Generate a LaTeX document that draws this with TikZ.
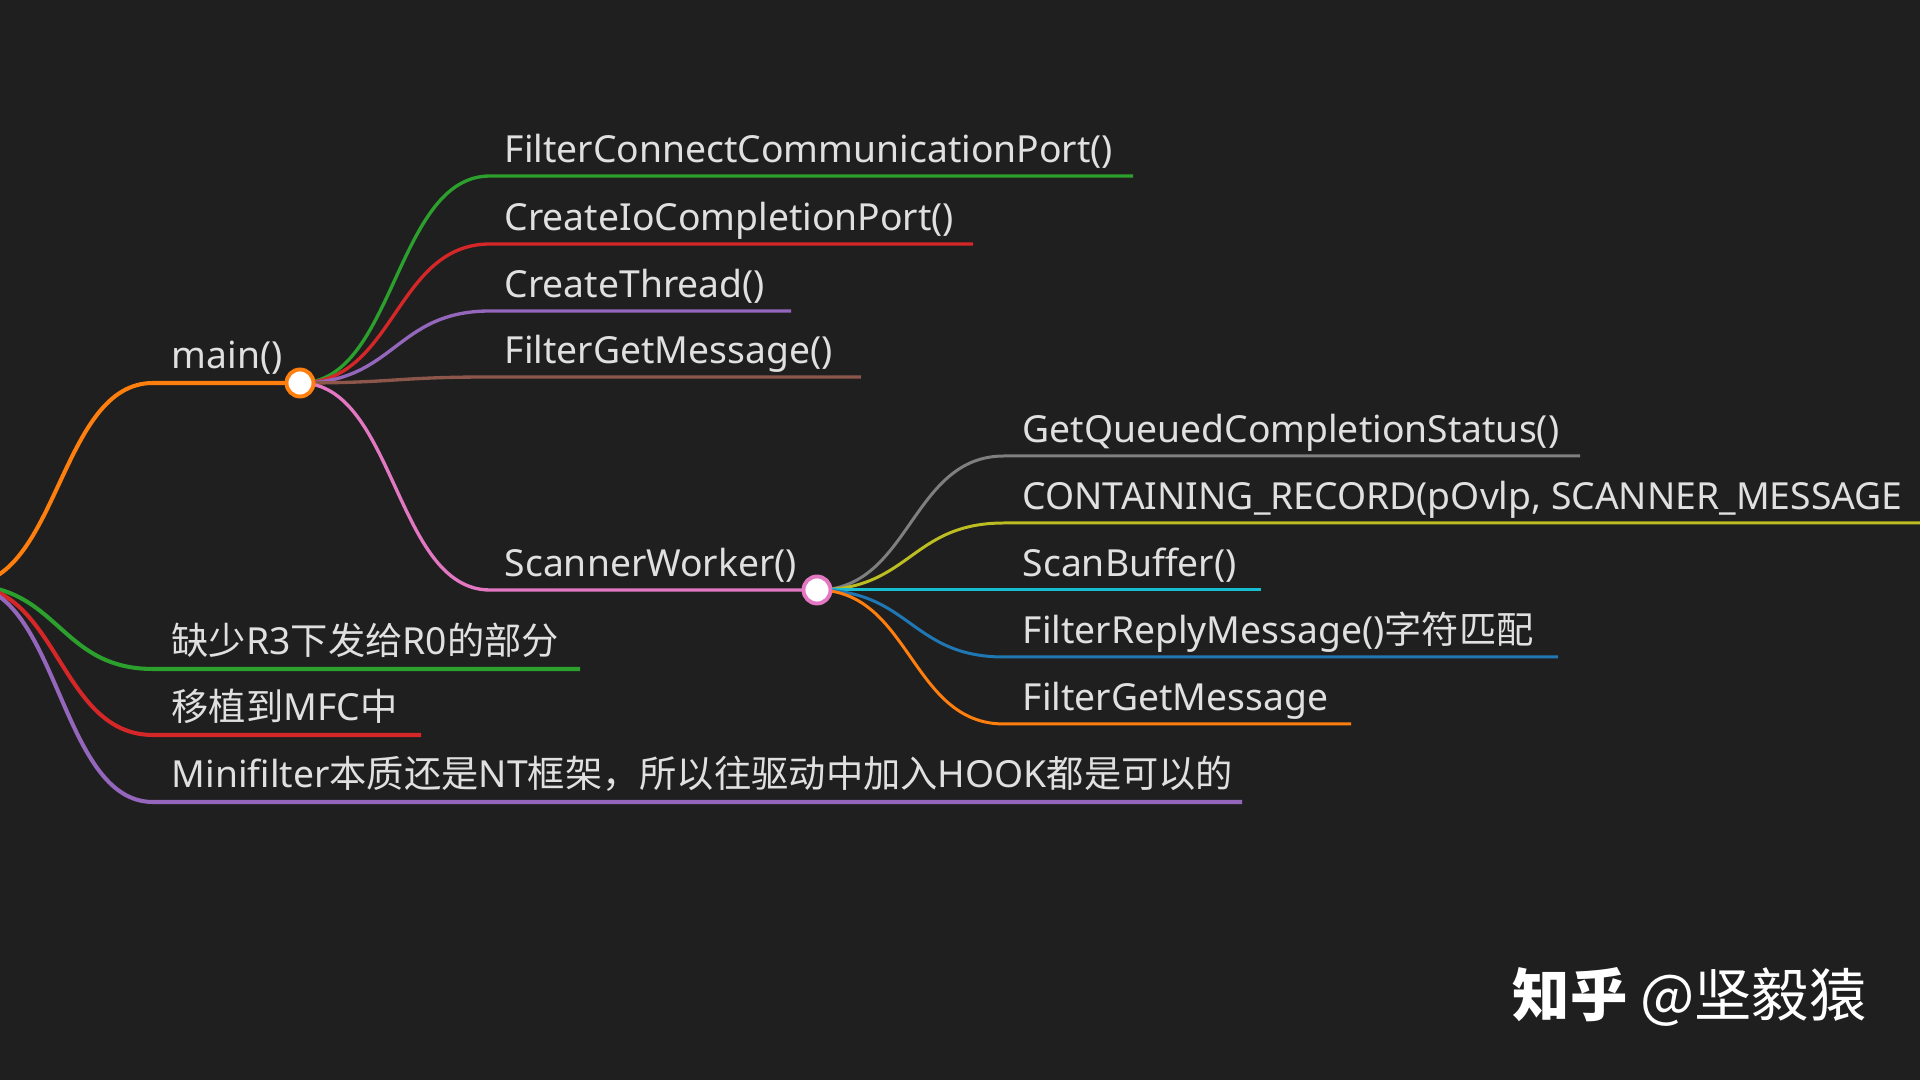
\documentclass[tikz,border=0pt]{standalone}
\usepackage{fontspec}
\setmainfont{Noto Sans}
\newfontfamily\cjk{Noto Sans CJK SC}
\usetikzlibrary{calc}
\definecolor{bg}{RGB}{31,31,31}
\definecolor{txt}{RGB}{224,224,224}
\definecolor{mmblue}{HTML}{1F77B4}
\definecolor{mmorange}{HTML}{FF7F0E}
\definecolor{mmgreen}{HTML}{2CA02C}
\definecolor{mmred}{HTML}{D62728}
\definecolor{mmpurple}{HTML}{9467BD}
\definecolor{mmbrown}{HTML}{8C564B}
\definecolor{mmpink}{HTML}{E377C2}
\definecolor{mmgray}{HTML}{7F7F7F}
\definecolor{mmolive}{HTML}{BCBD22}
\definecolor{mmcyan}{HTML}{17BECF}

\begin{document}
\begin{tikzpicture}[
  x=0.01cm, y=-0.01cm,
  every node/.style={font=\fontsize{10.6}{13}\selectfont, text=txt},
  lbl/.style={anchor=base west, inner sep=0pt},
  link/.style={to path={let \p1=(\tikztostart), \p2=(\tikztotarget),
      \p3=($(\p1)!.5!(\p2)$) in .. controls (\x3,\y1) and (\x3,\y2) .. (\tikztotarget)}},
  lv1/.style={draw=#1, line width=1.15pt},
  lv2/.style={draw=#1, line width=0.95pt},
  lv3/.style={draw=#1, line width=0.85pt},
  dot/.style={circle, draw=#1, fill=white, line width=1.1pt,
              minimum size=0.27cm, inner sep=0pt},
]
\fill[bg] (0,0) rectangle (1920,1080);
\useasboundingbox (0,0) rectangle (1920,1080);
\clip (0,0) rectangle (1920,1080);

% first level
\coordinate (root) at (-35,585);
\coordinate (mainS) at (153,383);  \coordinate (mainC) at (300,383);
\coordinate (lackS) at (153,669);  \coordinate (lackE) at (580,669);
\coordinate (portS) at (153,735);  \coordinate (portE) at (421,735);
\coordinate (miniS) at (153,802);  \coordinate (miniE) at (1242,802);

\draw[lv1=mmorange] (root) to[link] (mainS) -- (mainC);
\draw[lv1=mmgreen]  (root) to[link] (lackS) -- (lackE);
\draw[lv1=mmred]    (root) to[link] (portS) -- (portE);
\draw[lv1=mmpurple] (root) to[link] (miniS) -- (miniE);

% main()
\coordinate (fccS) at (490,176);   \coordinate (fccE) at (1133,176);
\coordinate (cicpS) at (490,244);  \coordinate (cicpE) at (973,244);
\coordinate (cthS) at (490,311);   \coordinate (cthE) at (791,311);
\coordinate (fgmS) at (490,377);   \coordinate (fgmE) at (861,377);
\coordinate (swS) at (490,590);    \coordinate (swC) at (817,590);

\draw[lv2=mmgreen]  (mainC) to[link] (fccS) -- (fccE);
\draw[lv2=mmred]    (mainC) to[link] (cicpS) -- (cicpE);
\draw[lv2=mmpurple] (mainC) to[link] (cthS) -- (cthE);
\draw[lv2=mmbrown]  (mainC) to[link] (fgmS) -- (fgmE);
\draw[lv2=mmpink]   (mainC) to[link] (swS) -- (swC);

% ScannerWorker()
\coordinate (gqcsS) at (1004,456); \coordinate (gqcsE) at (1580,456);
\coordinate (crecS) at (1004,523); \coordinate (crecE) at (1930,523);
\coordinate (sbS) at (1004,590);   \coordinate (sbE) at (1261,590);
\coordinate (frmS) at (1004,657);  \coordinate (frmE) at (1558,657);
\coordinate (fgmTS) at (1004,724); \coordinate (fgmTE) at (1351,724);

\draw[lv3=mmgray]   (swC) to[link] (gqcsS) -- (gqcsE);
\draw[lv3=mmolive]  (swC) to[link] (crecS) -- (crecE);
\draw[lv3=mmcyan]   (swC) to[link] (sbS) -- (sbE);
\draw[lv3=mmblue]   (swC) to[link] (frmS) -- (frmE);
\draw[lv3=mmorange] (swC) to[link] (fgmTS) -- (fgmTE);

\node[dot=mmorange] (mainDot) at (mainC) {};
\node[dot=mmpink] (swDot) at (swC) {};

% labels
\node[lbl] (main) at (171,369) {main()};
\node[lbl] (lack) at (171,655) {{\cjk 缺少}R3{\cjk 下发给}R0{\cjk 的部分}};
\node[lbl] (port) at (171,721) {{\cjk 移植到}MFC{\cjk 中}};
\node[lbl] (mini) at (171,788) {Minifilter{\cjk 本质还是}NT{\cjk 框架，所以往驱动中加入}HOOK{\cjk 都是可以的}};

\node[lbl] (fcc) at (504,163) {FilterConnectCommunicationPort()};
\node[lbl] (cicp) at (504,231) {CreateIoCompletionPort()};
\node[lbl] (cth) at (504,298) {CreateThread()};
\node[lbl] (fgm) at (504,364) {FilterGetMessage()};
\node[lbl] (sw) at (504,577) {ScannerWorker()};

\node[lbl] (gqcs) at (1022,443) {GetQueuedCompletionStatus()};
\node[lbl] (crec) at (1022,510) {CONTAINING\_RECORD(pOvlp, SCANNER\_MESSAGE};
\node[lbl] (sb) at (1022,577) {ScanBuffer()};
\node[lbl] (frm) at (1022,644) {FilterReplyMessage(){\cjk 字符匹配}};
\node[lbl] (fgmT) at (1022,711) {FilterGetMessage};

\node[lbl, text=white, font=\cjk\fontsize{16.3}{19}\selectfont] (zhihu)
  at (1512,1017) {{\bfseries 知乎} @坚毅猿};
\end{tikzpicture}
\end{document}
